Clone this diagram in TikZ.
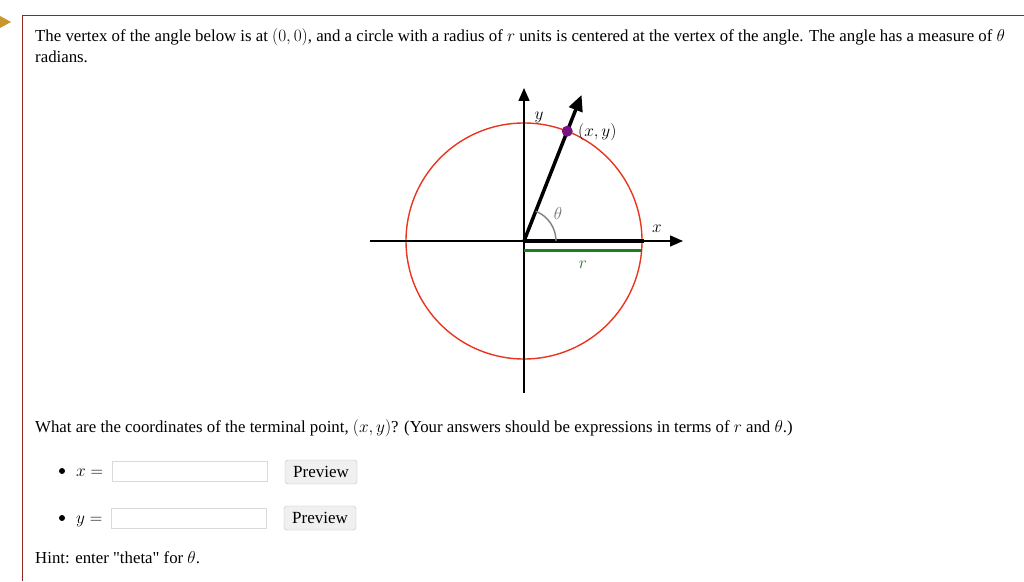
\documentclass[tikz,border=0pt]{standalone}
\usepackage{fontspec}
\setmainfont{Liberation Serif}
\usetikzlibrary{arrows.meta,calc}
\definecolor{framered}{RGB}{140,40,35}
\definecolor{circred}{RGB}{232,55,30}
\definecolor{dotpurple}{RGB}{120,20,130}
\definecolor{rgreen}{RGB}{30,125,30}
\definecolor{markgold}{RGB}{200,150,45}
\tikzset{
  txt/.style={anchor=base west, inner sep=0pt, font=\fontsize{16.8}{21}\selectfont},
  lbl/.style={inner sep=1pt, font=\fontsize{17}{21}\selectfont},
  inbox/.style={draw=black!15, minimum width=155pt, minimum height=20pt, inner sep=0pt},
  prevbtn/.style={draw=black!25, fill=black!6, rounded corners=3pt, minimum width=72pt,
    minimum height=24pt, inner sep=0pt, font=\fontsize{17}{21}\selectfont},
  axisline/.style={line width=1.5pt, -{Triangle[length=13pt,width=11pt]}},
}

\begin{document}
\begin{tikzpicture}[x=1pt, y=1pt]
        \useasboundingbox[fill=white] (0,0) rectangle (1024,581);
        % frame and marker
        \fill[markgold] (0,565) -- (11,559) -- (0,553) -- cycle;
        \draw[framered, line width=1pt] (1024,565) -- (22,565) -- (22,0);

        % question text
        \node[txt] (intro1) at (35,539) {The vertex of the angle below is at $(0,0)$, and a circle with a radius of $r$ units is centered at the vertex of the angle. The angle has a measure of $\theta$};
        \node[txt] (intro2) at (35,518) {radians.};

        % the figure
        \coordinate (O) at (524,340);
        \draw[circred, line width=1.4pt] (O) circle (118);
        \draw[axisline] (370,340) -- (683,340) coordinate (xtip);
        \draw[axisline] (524,188) -- (524,493) coordinate (ytip);
        \draw[line width=4pt] (O) -- (644,340);
        \draw[line width=3.5pt, -{Triangle[length=16pt,width=14pt]}] (O) -- ++(68.5:157) coordinate (raytip);
        \draw[rgreen, line width=3pt] (524,330) -- (642,330);
        \draw[black!50, line width=1.4pt] ($(O)+(32,0)$) arc (0:68.5:32);
        \fill[dotpurple] ($(O)+(68.5:118)$) circle (5.5) coordinate (P);

        \node[lbl, black!55] (thlbl) at (558,367) {$\theta$};
        \node[lbl, rgreen] (rlbl) at (583,316) {$r$};
        \node[lbl] (xlbl) at (657,352) {$x$};
        \node[lbl] (ylbl) at (539,464) {$y$};
        \node[lbl, anchor=west] (ptlbl) at (577,449) {$(x,y)$};

        % answers
        \node[txt] (quest) at (35,149) {What are the coordinates of the terminal point, $(x,y)$? (Your answers should be expressions in terms of $r$ and $\theta$.)};
        \fill (62,110) circle (3) coordinate (xbul);
        \node[txt] (xeq) at (76,105) {$x=$};
        \node[inbox] (xbox) at (189.5,109.5) {};
        \node[prevbtn] (xbtn) at (321,109) {Preview};
        \fill (62,63) circle (3) coordinate (ybul);
        \node[txt] (yeq) at (76,58) {$y=$};
        \node[inbox] (ybox) at (188.5,63) {};
        \node[prevbtn] (ybtn) at (320,63) {Preview};
        \node[txt] (hint) at (35,18) {Hint: enter \textquotedbl theta\textquotedbl{} for $\theta$.};
\end{tikzpicture}
\end{document}
